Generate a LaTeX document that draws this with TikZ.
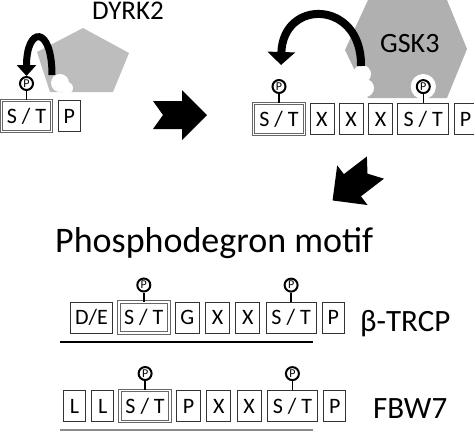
\documentclass[tikz,border=0pt]{standalone}
\usepackage{fontspec}
\setmainfont{Carlito}
\usetikzlibrary{positioning,arrows.meta}
\tikzset{
  res/.style={draw=black!80, line width=0.8pt, fill=white, minimum height=31pt, minimum width=22pt, inner sep=0pt, font=\fontsize{22}{22}\selectfont},
  keyres/.style={res, draw=black!60, line width=1pt, double=white, double distance=1.4pt},
  phos/.style={circle, draw, line width=2pt, fill=white, minimum size=13pt, inner sep=0pt, font=\fontsize{12}{12}\selectfont},
  halo/.style={preaction={draw=white, line width=12pt}},
  stem/.style={line width=1.6pt},
  kinase/.style={fill=black!26},
  swoop/.style={line width=8pt, -{Triangle[length=13pt,width=27pt]}},
  lbl/.style={anchor=base west, inner sep=0pt},
}
\begin{document}
\begin{tikzpicture}[x=1pt,y=-1pt]
\useasboundingbox (0,0) rectangle (474,432);
% kinases
\fill[kinase] (83,28) -- (129,53) -- (113,92) -- (50,92) -- (37,52) -- cycle;
\fill[white] (60,83) circle (9) (67,88) circle (6);
\fill[kinase, black!31] (345,50) -- (368,0) -- (447,0) -- (467,49) -- (447,98) -- (368,98) -- cycle;
\fill[white] (362,74) circle (9) (365,88) circle (9);
\node[lbl, font=\fontsize{27}{27}\selectfont] (dyrk) at (92,19.5) {DYRK2};
\node[lbl, font=\fontsize{28}{28}\selectfont] (gsk) at (380,52) {GSK3};
% big arrows
\fill (153,101) -- (182,101) -- (182,90) -- (207,115) -- (182,140) -- (182,129) -- (153,129) -- (163,115) -- cycle;
\fill[shift={(354,184)}, rotate=-142.5] (-27,-14) -- (2,-14) -- (2,-25) -- (27,0) -- (2,25) -- (2,14) -- (-27,14) -- (-17,0) -- cycle;
% DYRK2 substrate
\node[keyres, minimum width=50pt, anchor=west] (d1) at (1,116) {S / T};
\node[res, right=6pt of d1] (d2) {P};
\node[phos, above=9pt of d1] (pd1) {P};
\draw[stem] (pd1) -- (d1);
\coordinate (dfrom) at (52,75);
\draw[swoop, -{Triangle[length=11pt,width=19pt]}, line width=7pt] (dfrom) .. controls +(0,-50) and +(0,-50) .. (pd1.north);
% GSK3 substrate
\node[keyres, minimum width=51pt, anchor=west] (g1) at (253,119) {S / T};
\node[res, minimum width=24pt, right=4.5pt of g1] (g2) {X};
\node[res, minimum width=24pt, right=4.5pt of g2] (g3) {X};
\node[res, minimum width=24pt, right=4.5pt of g3] (g4) {X};
\node[res, minimum width=51pt, right=4.5pt of g4] (g5) {S / T};
\node[res, minimum width=23pt, right=4.5pt of g5] (g6) {P};
\node[phos, above=9pt of g1] (pg1) {P};
\node[phos, halo, above=9pt of g5] (pg5) {P};
\draw[stem] (pg1) -- (g1);
\draw[stem] (pg5) -- (g5);
\coordinate (gfrom) at (361,66);
\coordinate (gto) at (281,65);
\draw[swoop] (gfrom) .. controls (362,0) and (283,-2) .. (gto);
% phosphodegrons
\node[lbl, font=\fontsize{36}{36}\selectfont] (motif) at (55,252) {Phosphodegron motif};
\node[res, minimum width=42pt, anchor=west] (b1) at (70,317.5) {D/E};
\node[keyres, minimum width=50pt, right=5.5pt of b1] (b2) {S / T};
\node[res, minimum width=24pt, right=5.5pt of b2] (b3) {G};
\node[res, minimum width=24pt, right=5.5pt of b3] (b4) {X};
\node[res, minimum width=24pt, right=5.5pt of b4] (b5) {X};
\node[res, minimum width=50pt, right=5.5pt of b5] (b6) {S / T};
\node[res, right=5.5pt of b6] (b7) {P};
\node[phos, above=9pt of b2] (pb2) {P};
\node[phos, above=9pt of b6] (pb6) {P};
\draw[stem] (pb2) -- (b2);
\draw[stem] (pb6) -- (b6);
\node[lbl, font=\fontsize{31}{31}\selectfont] (btrcp) at (360,331.5) {β-TRCP};
\draw[line width=1.3pt] (60,342) -- (313,342);
\node[res, anchor=west] (f1) at (63,406) {L};
\node[res, right=5.5pt of f1] (f2) {L};
\node[keyres, minimum width=50pt, right=5.5pt of f2] (f3) {S / T};
\node[res, minimum width=24pt, right=5.5pt of f3] (f4) {P};
\node[res, minimum width=24pt, right=5.5pt of f4] (f5) {X};
\node[res, minimum width=24pt, right=5.5pt of f5] (f6) {X};
\node[res, minimum width=50pt, right=5.5pt of f6] (f7) {S / T};
\node[res, right=5.5pt of f7] (f8) {P};
\node[phos, above=9pt of f3] (pf3) {P};
\node[phos, above=9pt of f7] (pf7) {P};
\draw[stem] (pf3) -- (f3);
\draw[stem] (pf7) -- (f7);
\node[lbl, font=\fontsize{31}{31}\selectfont] (fbw) at (373,418.5) {FBW7};
\draw[line width=1.3pt, black!45] (60,430) -- (313,430);
\end{tikzpicture}
\end{document}
